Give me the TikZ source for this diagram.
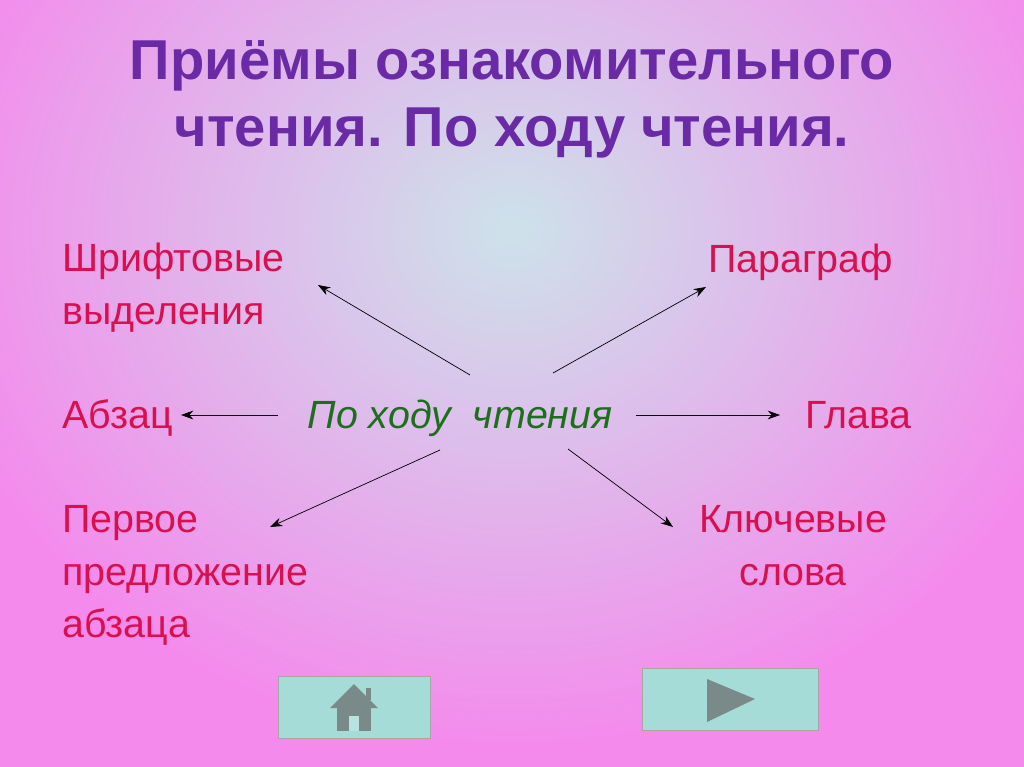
\documentclass[tikz,border=0pt]{standalone}
\usepackage{fontspec}
\setmainfont{Liberation Sans}
\usetikzlibrary{arrows.meta}
\begin{document}
\begin{tikzpicture}[x=0.02cm,y=-0.02cm,
  ttl/.style={font=\bfseries\fontsize{32}{38}\selectfont, text=titlec},
  itm/.style={font=\fontsize{22.4}{30}\selectfont, text=itemc, inner sep=0pt, align=left},
  arr/.style={-{Stealth[length=7pt,width=5pt]}, thin, black},
  btn/.style={draw=gray!70, fill=btnc}]
\definecolor{titlec}{HTML}{6A2AA6}
\definecolor{itemc}{HTML}{D81050}
\definecolor{ctrc}{HTML}{1E6E1E}
\definecolor{pinkc}{HTML}{F48AEC}
\definecolor{midc}{HTML}{CDE2EA}
\definecolor{btnc}{HTML}{A6DCD8}
\definecolor{iconc}{HTML}{7A8A88}
\useasboundingbox (0,0) rectangle (1024,767);
\begin{scope}
\clip (0,0) rectangle (1024,767);
\fill[pinkc] (0,0) rectangle (1024,767);
\shade[inner color=midc, outer color=pinkc] (512,230) ellipse [x radius=600, y radius=520];
\end{scope}
\node[ttl] (t1) at (512,66) {Приёмы ознакомительного};
\node[ttl] (t2) at (512,133) {чтения. По ходу чтения.};
\node[itm, anchor=north west] (shr) at (62,243) {Шрифтовые\\выделения};
\node[itm, anchor=base west] (par) at (708,272) {Параграф};
\node[itm, anchor=base west] (abz) at (62,428) {Абзац};
\node[itm, anchor=base west] (gl) at (805,428) {Глава};
\node[itm, anchor=north west] (perv) at (62,505) {Первое\\предложение\\абзаца};
\node[itm, anchor=north, align=center] (kl) at (793,505) {Ключевые\\слова};
\node[itm, text=ctrc, font=\itshape\fontsize{22.4}{30}\selectfont, anchor=base] (c) at (460,428) {По ходу\ \ чтения};
\coordinate (a1s) at (470,375); \coordinate (a1e) at (318,285);
\coordinate (a2s) at (553,373); \coordinate (a2e) at (706,287);
\coordinate (a3s) at (278,415); \coordinate (a3e) at (181,415);
\coordinate (a4s) at (636,415); \coordinate (a4e) at (780,415);
\coordinate (a5s) at (440,450); \coordinate (a5e) at (270,527);
\coordinate (a6s) at (568,449); \coordinate (a6e) at (673,527);
\draw[arr] (a1s) -- (a1e);
\draw[arr] (a2s) -- (a2e);
\draw[arr] (a3s) -- (a3e);
\draw[arr] (a4s) -- (a4e);
\draw[arr] (a5s) -- (a5e);
\draw[arr] (a6s) -- (a6e);
\node[btn, minimum width=152*0.02cm, minimum height=62*0.02cm] (b1) at (354,707) {};
\node[btn, minimum width=176*0.02cm, minimum height=62*0.02cm] (b2) at (730,699) {};
\fill[iconc] (330,708) -- (354,684) -- (378,708) -- cycle;
\fill[iconc] (337,706) rectangle (371,731);
\fill[btnc!80!white] (349,716) rectangle (359,731);
\fill[iconc] (366,688) rectangle (371,700);
\fill[iconc] (707,679) -- (755,699) -- (707,722) -- cycle;
\end{tikzpicture}
\end{document}
